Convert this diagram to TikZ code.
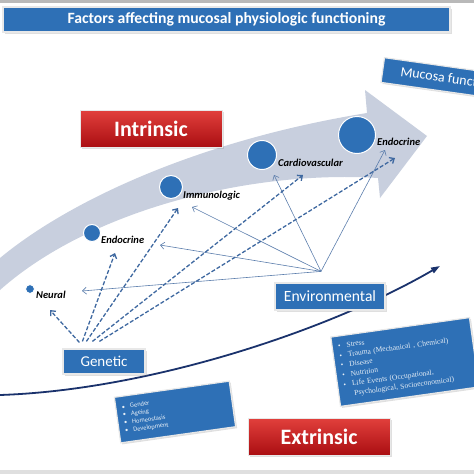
\documentclass[tikz,border=0pt]{standalone}
\usepackage{fontspec}
\setmainfont{Carlito}
\newfontfamily\listserif{Liberation Serif}
\usetikzlibrary{arrows.meta,shadows,positioning}
\definecolor{boxblue}{RGB}{46,112,182}
\definecolor{bandgray}{RGB}{200,207,222}
\definecolor{dashblue}{RGB}{62,104,160}
\definecolor{linkblue}{RGB}{92,126,172}
\definecolor{swoosh}{RGB}{26,50,108}
\definecolor{redtop}{RGB}{226,64,60}
\definecolor{redbot}{RGB}{170,14,18}
\begin{document}
\begin{tikzpicture}[x=1pt,y=-1pt,
	bluebox/.style={draw=white!82!gray,line width=1.2pt,fill=boxblue,text=white,inner sep=0pt,
		drop shadow={opacity=0.25,shadow xshift=1.5pt,shadow yshift=-1.5pt}},
	redbox/.style={draw=white!82!gray,line width=1pt,top color=redtop,bottom color=redbot,text=white,
		font=\fontsize{22}{24}\selectfont\bfseries,minimum width=142pt,minimum height=37pt,inner sep=0pt,
		drop shadow={opacity=0.25,shadow xshift=1.5pt,shadow yshift=-1.5pt}},
	dot/.style={circle,fill=boxblue,draw=white,line width=1pt,inner sep=0pt},
	lbl/.style={font=\fontsize{10.5}{12}\selectfont\bfseries\itshape,anchor=west,inner sep=1pt},
	genarrow/.style={dashblue,line width=1.3pt,dash pattern=on 4pt off 2pt,-{Straight Barb[length=4pt,width=7pt]}},
	envarrow/.style={linkblue,line width=0.6pt,-{Straight Barb[length=4pt,width=7pt]}},
	listbox/.style={bluebox,rotate=8,align=left,text=white!88!boxblue}]
	\useasboundingbox (0,0) rectangle (474,474);
	\begin{scope}
		\clip (0,0) rectangle (474,474);
		\fill[gray!55] (0,0) rectangle (474,3);
		\fill[gray!25] (0,470) rectangle (474,474);
		\node[bluebox,minimum width=447pt,minimum height=25pt,font=\fontsize{15.7}{17}\selectfont\bfseries] (title) at (226.5,19.5) {Factors affecting mucosal physiologic functioning};
		\node[bluebox,rotate=-8,anchor=north west,minimum height=25pt,inner xsep=18pt,font=\fontsize{14}{16}\selectfont] (mucosa) at (384,57) {Mucosa functioning};

		\fill[bandgray] (0,258) .. controls (70,200) and (200,140) .. (367,113) -- (365,90) -- (427,136) -- (380,198) -- (378,178) .. controls (250,170) and (90,210) .. (0,290) -- cycle;
		\draw[swoosh,line width=1.8pt,-{Triangle[length=9pt,width=6pt]}] (0,395) .. controls (150,390) and (330,330) .. (440,266);

		\node[redbox] (intr) at (151,128.5) {Intrinsic};
		\node[redbox] (extr) at (319,436.5) {Extrinsic};

		\node[dot,minimum size=9pt] (neural) at (30,289) {};
		\node[dot,minimum size=17pt] (endoA) at (92,233) {};
		\node[dot,minimum size=23pt] (immuno) at (171,187) {};
		\node[dot,minimum size=29pt] (cardio) at (262,155) {};
		\node[dot,minimum size=37pt] (endoB) at (357,135) {};
		\node[lbl] (lneural) at (35,295) {Neural};
		\node[lbl] (lendoA) at (100,240) {Endocrine};
		\node[lbl] (limmuno) at (182,196) {Immunologic};
		\node[lbl] (lcardio) at (277,163) {Cardiovascular};
		\node[lbl] (lendoB) at (376,142) {Endocrine};

		\node[bluebox,minimum width=82pt,minimum height=25pt,font=\fontsize{15}{17}\selectfont] (gen) at (104,361.5) {Genetic};
		\node[bluebox,minimum width=110pt,minimum height=27pt,font=\fontsize{15.6}{17}\selectfont] (env) at (330,296.5) {Environmental};

		\coordinate (gNeural) at (50,310);
		\coordinate (gEndoA) at (115,253);
		\coordinate (gImmuno) at (178,208);
		\coordinate (gCardio) at (303,175);
		\coordinate (gEndoB) at (395,158);
		\coordinate (eNeural) at (82,291);
		\coordinate (eEndoA) at (160,245);
		\coordinate (eImmuno) at (192,207);
		\coordinate (eCardio) at (274,175);
		\coordinate (eEndoB) at (385,150);
		\coordinate (envtop) at ([shift={(-9,-11)}]env.north);

		\draw[envarrow] (envtop) -- (eNeural);
		\draw[envarrow] (envtop) -- (eEndoA);
		\draw[envarrow] (envtop) -- (eImmuno);
		\draw[envarrow] (envtop) -- (eCardio);
		\draw[envarrow] (envtop) -- (eEndoB);
		\draw[genarrow] ([shift={(17,-6)}]gen.north west) -- (gNeural);
		\draw[genarrow] ([shift={(20,-7)}]gen.north west) -- (gEndoA);
		\draw[genarrow] ([shift={(24,-7)}]gen.north west) -- (gImmuno);
		\draw[genarrow] ([shift={(30,-7)}]gen.north west) -- (gCardio);
		\draw[genarrow] ([shift={(37,-7)}]gen.north west) -- (gEndoB);

		\node[listbox,minimum width=116pt,minimum height=46pt,text width=104pt,font=\fontsize{6.5}{8}\selectfont] (bodylist) at (175,412)
			{\textbullet\hspace{5pt}Gender\\ \textbullet\hspace{5pt}Ageing\\ \textbullet\hspace{5pt}Homeostasis\\ \textbullet\hspace{5pt}Development};
		\node[listbox,minimum width=140pt,minimum height=70pt,text width=128pt,font=\listserif\fontsize{7.5}{9.8}\selectfont] (envlist) at (405,362)
			{\textbullet\hspace{6pt}Stress\\ \textbullet\hspace{6pt}Trauma (Mechanical , Chemical)\\ \textbullet\hspace{6pt}Disease\\ \textbullet\hspace{6pt}Nutrition\\ \textbullet\hspace{6pt}Life Events (Occupational,\\ \hspace*{9.5pt}Psychological, Socioeconomical)};
	\end{scope}
\end{tikzpicture}
\end{document}
